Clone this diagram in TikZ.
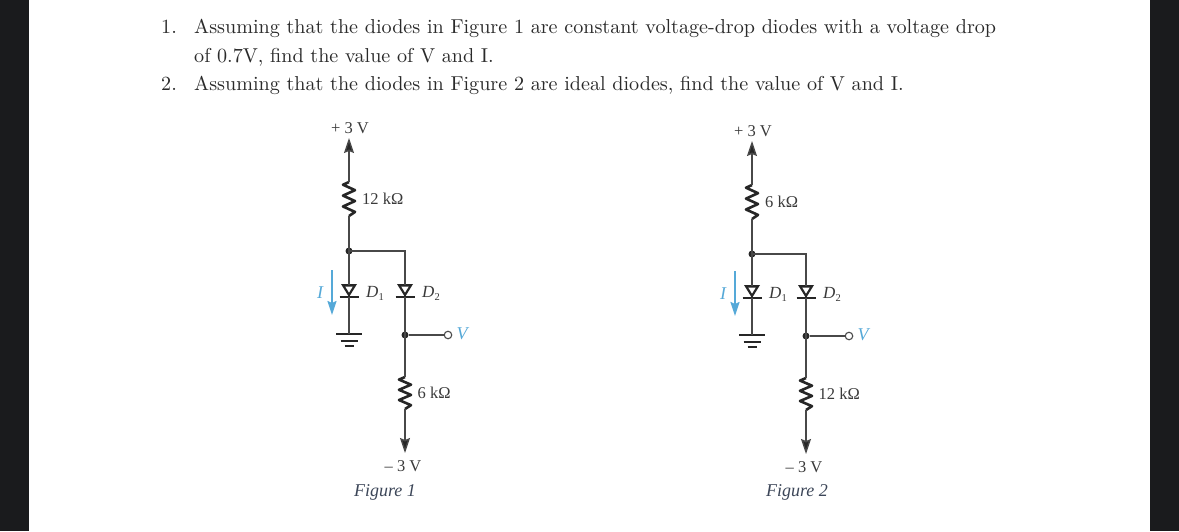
\documentclass[tikz,border=0pt]{standalone}
\usepackage{fontspec}
\usetikzlibrary{arrows.meta}
\newfontfamily\figfont{Liberation Serif}
\newfontfamily\bodyfont[Extension=.otf]{lmroman10-regular}
\definecolor{frame}{HTML}{1A1B1D}
\definecolor{ink}{HTML}{2A2A2A}
\definecolor{wire}{HTML}{484848}
\definecolor{labc}{HTML}{3A3A3A}
\definecolor{dark}{HTML}{262626}
\definecolor{blue1}{HTML}{55A9D8}
\definecolor{cap}{HTML}{3C4658}
\tikzset{
  x=1pt,y=-1pt,
  wireline/.style={draw=wire,line width=1.4pt},
  headline/.style={wireline,-{Stealth[length=15pt,width=10pt,inset=2pt,fill=dark]}},
  bodytext/.style={anchor=base west,inner sep=0pt,text=ink,font=\bodyfont\fontsize{20.12}{24}\selectfont},
  lab/.style={inner sep=0pt,text=labc,font=\figfont\fontsize{16.5}{20}\selectfont},
  dlab/.style={inner sep=0pt,text=labc,font=\figfont\itshape\fontsize{17}{20}\selectfont},
  bluelab/.style={inner sep=0pt,text=blue1,font=\figfont\itshape\fontsize{18}{20}\selectfont},
  figcap/.style={inner sep=0pt,text=cap,font=\figfont\itshape\fontsize{18}{20}\selectfont},
  dotnode/.style={circle,fill=dark,inner sep=0pt,minimum size=7pt},
  opennode/.style={circle,draw=wire,fill=white,line width=1.1pt,inner sep=0pt,minimum size=7.5pt},
  pics/diode/.style={code={
    \coordinate (-top) at (0,-6);
    \coordinate (-bot) at (0,6);
    \fill[dark] (-8,-7) -- (8,-7) -- (0,6) -- cycle;
    \fill[white] (-3.6,-4.3) -- (3.6,-4.3) -- (0,1.6) -- cycle;
    \draw[dark,line width=2.2pt] (-9.5,6) -- (9.5,6);
  }},
  pics/gnd/.style={code={
    \coordinate (-top) at (0,0);
    \draw[dark,line width=2.2pt] (-13,0) -- (13,0);
    \draw[dark,line width=2pt] (-8.5,6.5) -- (8.5,6.5);
    \draw[dark,line width=2pt] (-4.5,12) -- (4.5,12);
  }},
  pics/resistor/.style={code={
    \coordinate (-top) at (0,0);
    \coordinate (-bot) at (0,#1);
    \draw[dark,line width=2.6pt,line join=round]
      (0,0) -- (-6,.08*#1) -- (6,.24*#1) -- (-6,.40*#1) -- (6,.56*#1)
      -- (-6,.72*#1) -- (6,.88*#1) -- (0,#1);
  }},
}
% #1 prefix, #2 left x, #3 right x, #4 top offset, #5 bottom offset, #6 top R, #7 bottom R, #8 caption, #9 caption x
\newcommand{\fullcircuit}[9]{%
  \node[lab] (#1sup) at ({#2+1},{128+#4}) {+ 3 V};
  \coordinate (#1tip) at (#2,{138+#4});
  \pic (#1rt) at (#2,{182+#4}) {resistor=34};
  \node[lab,anchor=west] (#1rtl) at ({#2+13},{199+#4}) {#6};
  \node[dotnode] (#1j) at (#2,{251+#4}) {};
  \coordinate (#1c) at (#3,{251+#4});
  \pic (#1da) at (#2,{291+#5}) {diode};
  \pic (#1db) at (#3,{291+#5}) {diode};
  \node[dlab] (#1dal) at ({#2+26},{293+#5}) {D\raisebox{-3pt}{\figfont\upshape\fontsize{10.5}{12}\selectfont 1}};
  \node[dlab] (#1dbl) at ({#3+26},{293+#5}) {D\raisebox{-3pt}{\figfont\upshape\fontsize{10.5}{12}\selectfont 2}};
  \pic (#1g) at (#2,{334+#5}) {gnd};
  \node[dotnode] (#1o) at (#3,{335+#5}) {};
  \node[opennode] (#1v) at ({#3+43},{335+#5}) {};
  \node[bluelab] (#1vl) at ({#3+57},{334+#5}) {V};
  \pic (#1rb) at (#3,{377+#5}) {resistor=32};
  \node[lab,anchor=west] (#1rbl) at ({#3+12.5},{393+#5}) {#7};
  \coordinate (#1end) at (#3,{453+#5});
  \node[lab] (#1neg) at ({#3-2},{466+#5}) {– 3 V};
  \coordinate (#1ia) at ({#2-17},{270+#5});
  \coordinate (#1ib) at ({#2-17},{315+#5});
  \node[bluelab] (#1il) at ({#2-29},{293+#5}) {I};
  \node[figcap] (#1cap) at (#9,492.5) {#8};
  \draw[headline] (#1rt-top) -- (#1tip);
  \draw[wireline] (#1rt-bot) -- (#1j.center);
  \draw[wireline] (#1j.center) -- (#1da-top);
  \draw[wireline] (#1j.center) -- (#1c) -- (#1db-top);
  \draw[wireline] (#1da-bot) -- (#1g-top);
  \draw[wireline] (#1db-bot) -- (#1o.center);
  \draw[wireline] (#1o) -- (#1v);
  \draw[wireline] (#1o.center) -- (#1rb-top);
  \draw[headline] (#1rb-bot) -- (#1end);
  \draw[draw=blue1,line width=1.7pt,-{Stealth[length=14pt,width=9pt,inset=2pt]}] (#1ia) -- (#1ib);
}
\begin{document}
\begin{tikzpicture}
\useasboundingbox (0,0) rectangle (1179,531);
\fill[white] (0,0) rectangle (1179,531);
\fill[frame] (0,0) rectangle (29,531);
\fill[frame] (1150,0) rectangle (1179,531);
\node[bodytext] (n1) at (161,33.5) {1.};
\node[bodytext] (t1) at (194,33.5) {Assuming that the diodes in Figure 1 are constant voltage-drop diodes with a voltage drop};
\node[bodytext] (t1b) at (194,62) {of 0.7V, find the value of V and I.};
\node[bodytext] (n2) at (161,90.5) {2.};
\node[bodytext] (t2) at (194,90.5) {Assuming that the diodes in Figure 2 are ideal diodes, find the value of V and I.};
\fullcircuit{a}{349}{405}{0}{0}{12 kΩ}{6 kΩ}{Figure 1}{385}
\fullcircuit{b}{752}{806}{3}{1}{6 kΩ}{12 kΩ}{Figure 2}{797}
\end{tikzpicture}
\end{document}
